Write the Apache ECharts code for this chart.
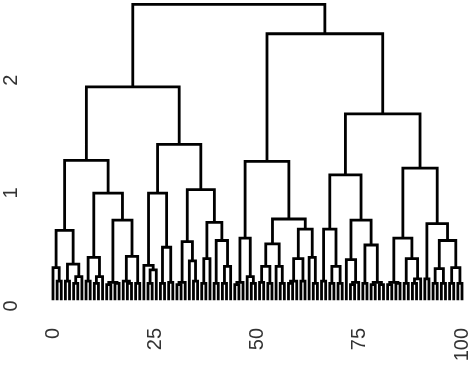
<!DOCTYPE html>
<html>
<head>
<meta charset="utf-8">
<script src="https://cdn.jsdelivr.net/npm/echarts@6/dist/echarts.min.js"></script>
<style>html,body{margin:0;padding:0;background:#fff}#c{width:474px;height:366px}</style>
</head>
<body>
<div id="c"></div>
<script>
// Tree data: each internal node is [mergeHeight, left, right]; "_" is a leaf.
const _ = null;
const leafHeight = 0.05;
const xTicks = [0, 25, 50, 75, 100];
const yTicks = [0, 1, 2];
const topHeights = [2.67, 1.94, 2.41]; // root, left cluster, right cluster

const treeLL = [1.29,
  [0.67,
    [0.34, _, [0.22, _, _]],
    [0.37, [0.22, _, _], [0.26, [0.2, _, _], _]]],
  [1.0,
    [0.43, [0.22, _, _], [0.26, [0.2, _, _], _]],
    [0.76, [0.21, [0.19, _, _], [0.2, _, _]], [0.44, [0.22, _, [0.2, _, _]], [0.2, _, _]]]]];

const treeLR = [1.43,
  [1.0,
    [0.36, _, [0.32, [0.2, _, _], _]],
    [0.52, [0.2, _, _], [0.21, _, _]]],
  [1.03,
    [0.57, [0.21, [0.19, _, _], _], [0.4, _, [0.22, _, _]]],
    [0.74, [0.42, [0.2, _, _], _], [0.58, [0.2, _, _], [0.35, [0.2, _, _], _]]]]];

const treeR1 = [1.28,
  [0.6, [0.21, [0.19, _, _], _], [0.26, _, [0.2, _, _]]],
  [0.77,
    [0.55, [0.35, [0.21, _, _], [0.2, _, _]], [0.35, _, [0.2, _, _]]],
    [0.68, [0.42, [0.22, [0.2, _, _], _], [0.22, _, _]], [0.43, _, [0.2, _, _]]]]];

const treeR2 = [1.70,
  [1.16,
    [0.68, [0.22, _, _], [0.35, [0.2, _, _], [0.2, _, _]]],
    [0.76, [0.41, _, [0.21, [0.19, _, _], _]], [0.54, [0.2, _, _], [0.21, [0.19, _, _], [0.19, _, _]]]]],
  [1.22,
    [0.6, [0.21, [0.19, _, _], [0.2, _, _]], [0.42, [0.2, _, _], [0.24, [0.2, _, _], _]]],
    [0.73, [0.24, _, _], [0.58, [0.33, [0.2, _, _], [0.2, _, _]], [0.34, [0.2, _, _], [0.2, _, _]]]]]];

const root = [topHeights[0], [topHeights[1], treeLL, treeLR], [topHeights[2], treeR1, treeR2]];

// layout
let nLeaves = 0;
(function count(n){ if(n===null){nLeaves++;return;} count(n[1]); count(n[2]); })(root);
const segs = [];
let leafIdx = 0;
function layout(n){
  if(n === null){ const x = leafIdx * 100 / (nLeaves - 1); leafIdx++; return [x, leafHeight]; }
  const l = layout(n[1]), r = layout(n[2]);
  segs.push([l[0], l[1], r[0], r[1], n[0]]);
  return [(l[0] + r[0]) / 2, n[0]];
}
layout(root);

const chart = echarts.init(document.getElementById('c'), null, {renderer: 'canvas'});
const labelFont = {fontFamily: 'Liberation Sans, Arial, sans-serif', fontSize: 20, color: '#333'};
chart.setOption({
  animation: false,
  grid: {left: 53, right: 12, top: 1, bottom: 60, containLabel: false},
  xAxis: {
    type: 'value', min: 0, max: 100, interval: 25,
    axisLine: {show: false}, axisTick: {show: false}, splitLine: {show: false},
    axisLabel: Object.assign({rotate: 90, margin: 22, showMinLabel: true, showMaxLabel: true,
      formatter: v => xTicks.includes(v) ? String(v) : ''}, labelFont)
  },
  yAxis: {
    type: 'value', min: 0, max: 2.7, interval: 1,
    axisLine: {show: false}, axisTick: {show: false}, splitLine: {show: false},
    axisLabel: Object.assign({rotate: 90, margin: 32, showMaxLabel: false,
      formatter: v => yTicks.includes(v) ? String(v) : ''}, labelFont)
  },
  series: [{
    type: 'custom',
    data: segs,
    encode: {x: [0, 2], y: [1, 3, 4]},
    clip: false,
    renderItem: function(params, api){
      const xl = api.value(0), yl = api.value(1), xr = api.value(2), yr = api.value(3), h = api.value(4);
      return {
        type: 'polyline',
        shape: {points: [api.coord([xl, yl]), api.coord([xl, h]), api.coord([xr, h]), api.coord([xr, yr])]},
        style: {stroke: '#000', lineWidth: 2.8, fill: null, lineJoin: 'miter', lineCap: 'butt'}
      };
    }
  }]
});
</script>
</body>
</html>
